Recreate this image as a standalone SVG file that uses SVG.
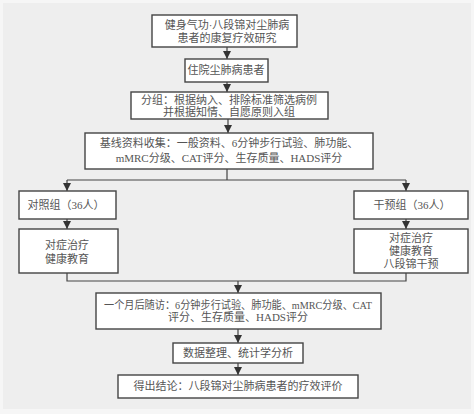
<svg xmlns="http://www.w3.org/2000/svg" width="474" height="414" viewBox="0 0 474 414">
<defs>
<marker id="ah" viewBox="0 0 8 10" refX="8" refY="5" markerWidth="8" markerHeight="10" markerUnits="userSpaceOnUse" orient="auto">
<path d="M0,1 L8,5 L0,9 z" fill="#333"/>
</marker>
<style>
.box{fill:#fff;stroke:#444;stroke-width:1.4}
.t{font-family:"Liberation Serif","Noto Sans CJK SC",serif;font-size:11px;fill:#555;text-anchor:middle}
.c{fill:none;stroke:#444;stroke-width:1.2}
.a{marker-end:url(#ah)}
</style>
</defs>
<rect x="0" y="0" width="474" height="414" fill="#f6f6f6"/>
<rect x="3" y="3" width="468" height="406" fill="#eeeeee"/>
<g id="connectors">
<path class="c a" d="M227,47 V59"/>
<path class="c a" d="M227,82 V92"/>
<path class="c a" d="M228,119 V133"/>
<path class="c" d="M227,169 V180 M67,180 H406"/>
<path class="c a" d="M67,180 V191"/>
<path class="c a" d="M406,180 V191"/>
<path class="c a" d="M67,219 V229"/>
<path class="c a" d="M406,219 V229"/>
<path class="c" d="M67,273 V281 H406 V273"/>
<path class="c a" d="M238,281 V293"/>
<path class="c a" d="M238,329 V343"/>
<path class="c a" d="M238,363 V375"/>
</g>
<g id="n1"><rect class="box" x="152" y="15" width="145" height="32"/>
<text class="t" x="227" y="29">健身气功·八段锦对尘肺病</text>
<text class="t" x="227" y="42">患者的康复疗效研究</text></g>
<g id="n2"><rect class="box" x="185" y="59" width="83" height="23"/>
<text class="t" x="226" y="74">住院尘肺病患者</text></g>
<g id="n3"><rect class="box" x="131" y="92" width="197" height="27"/>
<text class="t" x="229" y="104">分组：根据纳入、排除标准筛选病例</text>
<text class="t" x="229" y="116">并根据知情、自愿原则入组</text></g>
<g id="n4"><rect class="box" x="85" y="133" width="288" height="36"/>
<text class="t" x="229" y="147">基线资料收集：一般资料、6分钟步行试验、肺功能、</text>
<text class="t" x="229" y="162">mMRC分级、CAT评分、生存质量、HADS评分</text></g>
<g id="n5"><rect class="box" x="19" y="191" width="97" height="28"/>
<text class="t" x="66" y="209">对照组（36人）</text></g>
<g id="n6"><rect class="box" x="354" y="191" width="114" height="28"/>
<text class="t" x="412" y="209">干预组（36人）</text></g>
<g id="n7"><rect class="box" x="19" y="229" width="99" height="44"/>
<text class="t" x="67" y="249">对症治疗</text>
<text class="t" x="67" y="263">健康教育</text></g>
<g id="n8"><rect class="box" x="354" y="229" width="114" height="44"/>
<text class="t" x="411" y="242">对症治疗</text>
<text class="t" x="411" y="255">健康教育</text>
<text class="t" x="411" y="268">八段锦干预</text></g>
<g id="n9"><rect class="box" x="96" y="293" width="285" height="36"/>
<text class="t" x="238" y="309" textLength="268" lengthAdjust="spacingAndGlyphs">一个月后随访：6分钟步行试验、肺功能、mMRC分级、CAT</text>
<text class="t" x="238" y="321">评分、生存质量、HADS评分</text></g>
<g id="n10"><rect class="box" x="173" y="343" width="130" height="20"/>
<text class="t" x="238" y="357">数据整理、统计学分析</text></g>
<g id="n11"><rect class="box" x="118" y="375" width="240" height="23"/>
<text class="t" x="238" y="390">得出结论：八段锦对尘肺病患者的疗效评价</text></g>
</svg>
